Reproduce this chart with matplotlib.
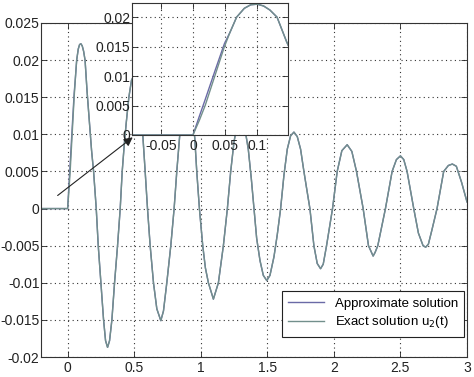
import matplotlib
matplotlib.use('Agg')
import matplotlib.pyplot as plt

plt.rcParams['font.family'] = ['Liberation Sans', 'DejaVu Sans']
plt.rcParams['axes.unicode_minus'] = False

# exact solution u2(t)
t_exact = [-0.2, 0.0, 0.01, 0.019, 0.034, 0.049, 0.058, 0.068, 0.08, 0.09, 0.1,
           0.11, 0.12, 0.131, 0.146, 0.16, 0.18, 0.195, 0.215, 0.23, 0.25, 0.27,
           0.285, 0.30, 0.315, 0.3325, 0.3525, 0.375, 0.395, 0.41, 0.425, 0.44,
           0.46, 0.48, 0.50, 0.52, 0.54, 0.56, 0.5825, 0.60, 0.62, 0.645, 0.67,
           0.70, 0.72, 0.745, 0.775, 0.80, 0.82, 0.845, 0.87, 0.90, 0.93, 0.955,
           0.97, 0.99, 1.015, 1.035, 1.0575, 1.095, 1.1325, 1.17, 1.20, 1.225,
           1.25, 1.275, 1.30, 1.325, 1.357, 1.38, 1.40, 1.42, 1.445, 1.47, 1.496,
           1.52, 1.55, 1.575, 1.60, 1.625, 1.65, 1.675, 1.70, 1.725, 1.75, 1.775,
           1.80, 1.82, 1.85, 1.875, 1.90, 1.92, 1.945, 1.99, 2.025, 2.06, 2.10,
           2.135, 2.17, 2.22, 2.26, 2.295, 2.31, 2.33, 2.3875, 2.4375, 2.47, 2.50,
           2.525, 2.55, 2.60, 2.635, 2.67, 2.69, 2.71, 2.735, 2.775, 2.825, 2.86,
           2.89, 2.92, 2.96, 3.0]
u_exact = [0.0, 0.0, 0.0025, 0.005, 0.010, 0.015, 0.0175, 0.020, 0.0215, 0.0221, 0.0222,
           0.0219, 0.0212, 0.020, 0.0158, 0.0125, 0.0078, 0.005, 0.0, -0.005, -0.010, -0.015,
           -0.0178, -0.0187, -0.0178, -0.015, -0.010, -0.005, 0.0, 0.005, 0.0085, 0.0115,
           0.015, 0.0173, 0.018, 0.0173, 0.015, 0.0112, 0.005, 0.0, -0.005, -0.010, -0.0135,
           -0.0151, -0.0138, -0.010, -0.005, 0.0, 0.005, 0.0105, 0.0138, 0.015, 0.0138, 0.0095,
           0.005, 0.0, -0.005, -0.008, -0.010, -0.0122, -0.010, -0.005, 0.0, 0.005,
           0.009, 0.0115, 0.0124, 0.0115, 0.008, 0.004, 0.0, -0.004, -0.007, -0.009, -0.0097,
           -0.009, -0.0065, -0.0035, 0.0, 0.0045, 0.008, 0.0098, 0.0103, 0.0097, 0.008, 0.005,
           0.0022, 0.0, -0.005, -0.0074, -0.0081, -0.0075, -0.005, 0.0, 0.005, 0.0078, 0.0086,
           0.0077, 0.005, 0.0, -0.005, -0.0064, -0.0059, -0.005, 0.0, 0.005, 0.0066, 0.0071,
           0.0066, 0.005, 0.0, -0.0033, -0.005, -0.0052, -0.0048, -0.003, 0.0, 0.005, 0.0058,
           0.006, 0.0057, 0.0035, 0.0009]

# approximate solution differs only at the very start
t_approx_start = [-0.2, 0.0, 0.01, 0.019, 0.034, 0.049]
u_approx_start = [0.0, 0.0, 0.0032, 0.006, 0.0108, 0.0155]

xticks = [0, 0.5, 1, 1.5, 2, 2.5, 3]
xtick_labels = ['0', '0.5', '1', '1.5', '2', '2.5', '3']
yticks = [-0.02, -0.015, -0.01, -0.005, 0, 0.005, 0.01, 0.015, 0.02, 0.025]
ytick_labels = ['-0.02', '-0.015', '-0.01', '-0.005', '0', '0.005', '0.01',
                '0.015', '0.02', '0.025']
inset_xticks = [-0.05, 0, 0.05, 0.1]
inset_xtick_labels = ['-0.05', '0', '0.05', '0.1']
inset_yticks = [0, 0.005, 0.01, 0.015, 0.02]
inset_ytick_labels = ['0', '0.005', '0.01', '0.015', '0.02']

approx_color = '#6a6aa6'
exact_color = '#728f8c'

n0 = len(t_approx_start)
t_approx = t_approx_start + t_exact[n0:]
u_approx = u_approx_start + u_exact[n0:]


def style_axes(ax, xt, xl, yt, yl):
    ax.set_xticks(xt)
    ax.set_xticklabels(xl)
    ax.set_yticks(yt)
    ax.set_yticklabels(yl)
    ax.tick_params(direction='in', top=True, right=True, length=4, width=0.6,
                   labelsize=10, colors='#222222')
    ax.tick_params(axis='y', pad=1)
    ax.tick_params(axis='x', pad=3)
    ax.grid(True, linestyle=(0, (1, 3)), color='#333333', linewidth=0.8)
    for s in ax.spines.values():
        s.set_color('#333333')
        s.set_linewidth(0.8)


fig = plt.figure(figsize=(4.74, 3.77), dpi=100)
ax = fig.add_axes([0.0865, 0.053, 0.8987, 0.886])
ax.plot(t_approx, u_approx, color=approx_color, linewidth=1.0, label='Approximate solution')
ax.plot(t_exact, u_exact, color=exact_color, linewidth=1.0, label='Exact solution u$_2$(t)')
ax.set_xlim(-0.2, 3)
ax.set_ylim(-0.02, 0.025)
style_axes(ax, xticks, xtick_labels, yticks, ytick_labels)

leg = ax.legend(loc='lower right', bbox_to_anchor=(0.994, 0.06), borderaxespad=0,
                fontsize=9.5, fancybox=False, framealpha=1, edgecolor='#222222',
                handlelength=2.7, borderpad=0.5, labelspacing=0.35)
leg.get_frame().set_linewidth(0.8)

ax.annotate('', xy=(0.489, 0.0096), xytext=(-0.075, 0.00176),
            arrowprops=dict(arrowstyle='-|>', color='#222222', lw=0.8,
                            mutation_scale=13, shrinkA=0, shrinkB=0))

ins = fig.add_axes([0.2785, 0.642, 0.329, 0.350])
ins.plot(t_approx, u_approx, color=approx_color, linewidth=1.0)
ins.plot(t_exact, u_exact, color=exact_color, linewidth=1.0)
ins.set_xlim(-0.095, 0.148)
ins.set_ylim(0, 0.0224)
style_axes(ins, inset_xticks, inset_xtick_labels, inset_yticks, inset_ytick_labels)

fig.savefig('out.png', dpi=100)
